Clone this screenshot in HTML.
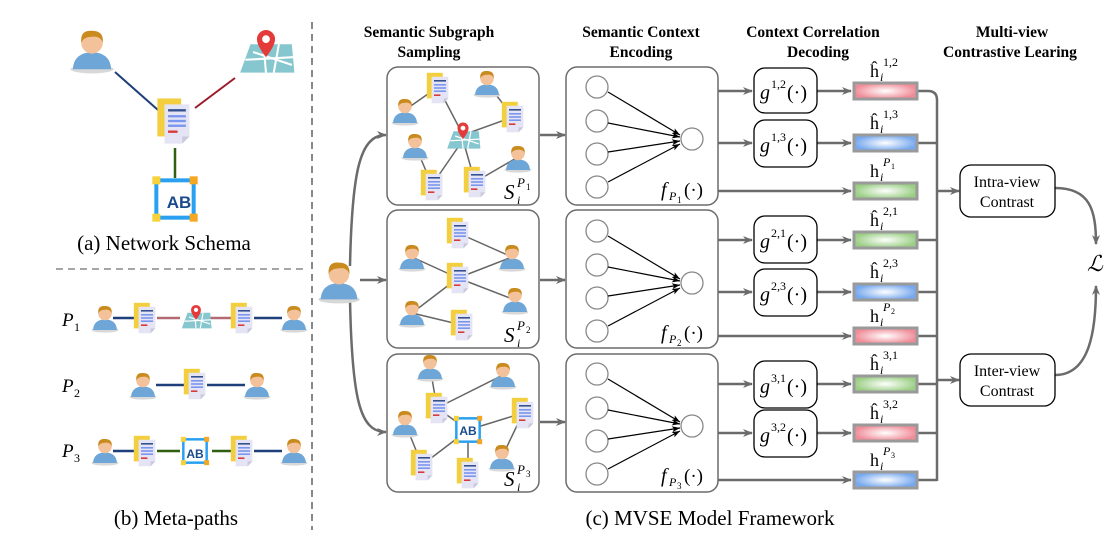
<!DOCTYPE html>
<html><head><meta charset="utf-8"><style>
body{margin:0;background:#fff;width:1116px;height:553px;overflow:hidden}
svg{display:block}
text{font-family:"Liberation Serif",serif;fill:#000}
.h{font-weight:bold;font-size:15.5px;text-anchor:middle}
</style></head><body>
<svg width="1116" height="553" viewBox="0 0 1116 553" xmlns="http://www.w3.org/2000/svg">
<defs>
<marker id="ar" markerWidth="10" markerHeight="8" refX="9" refY="4" orient="auto" markerUnits="userSpaceOnUse"><path d="M0,0 L10,4 L0,8 L3,4 Z" fill="#6b6b6b"/></marker>
<marker id="ak" markerWidth="8" markerHeight="6" refX="8" refY="3" orient="auto" markerUnits="userSpaceOnUse"><path d="M0,0 L8,3 L0,6 L2,3 Z" fill="#000"/></marker>
<symbol id="person" viewBox="0 0 40 40"><ellipse cx="20" cy="36" rx="18" ry="3.5" fill="#d8d8d8"/><path d="M4,36 Q5,22 20,22 Q35,22 36,36 Z" fill="#6fa6d8"/><circle cx="20" cy="14" r="9" fill="#f4c29a"/><path d="M11,14 Q10,3 20,4 Q30,4 29,14 Q27,8 20,9 Q13,9 11,14Z" fill="#c98a1e"/></symbol>
<symbol id="doc" viewBox="0 0 32 40"><rect x="2" y="1" width="20" height="32" fill="#f3cf3f"/><path d="M8,6 H29 V33 L23,39 H8 Z" fill="#e4e4f4"/><path d="M23,39 L23,33 L29,33Z" fill="#c9c9de"/><rect x="11" y="10" width="15" height="2" fill="#33518f"/><rect x="11" y="15" width="15" height="2" fill="#7b96ee"/><rect x="11" y="19" width="15" height="2" fill="#7b96ee"/><rect x="11" y="23" width="15" height="2" fill="#7b96ee"/><rect x="11" y="28" width="8" height="2" fill="#d83a3a"/></symbol>
<symbol id="map" viewBox="0 0 48 40"><path d="M4,36 L12,14 L44,14 L46,36 Z" fill="#86c6cf"/><path d="M8,26 L45,24 M14,20 L44,30 M22,14 L24,36 M34,14 L30,36" stroke="#fff" stroke-width="1.6" fill="none"/><path d="M24,3 a7,7 0 0 1 7,7 Q31,15 24,24 Q17,15 17,10 a7,7 0 0 1 7,-7Z" fill="#e53a3a"/><circle cx="24" cy="10" r="3" fill="#fff"/></symbol>
<symbol id="ab" viewBox="0 0 36 36"><rect x="4" y="4" width="28" height="28" fill="#fff" stroke="#2aa0f0" stroke-width="3"/><rect x="1" y="1" width="6" height="6" fill="#f7d23a"/><rect x="29" y="1" width="6" height="6" fill="#f5a623"/><rect x="1" y="29" width="6" height="6" fill="#f7d23a"/><rect x="29" y="29" width="6" height="6" fill="#f5a623"/></symbol>
<radialGradient id="gr"><stop offset="0" stop-color="#fff"/><stop offset="1" stop-color="#f08c98"/></radialGradient>
<radialGradient id="gb"><stop offset="0" stop-color="#fff"/><stop offset="1" stop-color="#76a8ee"/></radialGradient>
<radialGradient id="gg"><stop offset="0" stop-color="#fff"/><stop offset="1" stop-color="#9bcf85"/></radialGradient>
</defs>

<line x1="312" y1="22" x2="312" y2="530" stroke="#888" stroke-width="2" stroke-dasharray="7,5"/>
<line x1="56" y1="269" x2="306" y2="269" stroke="#888" stroke-width="1.5" stroke-dasharray="7,5"/>

<line x1="115" y1="72" x2="158" y2="110" stroke="#1f3f7a" stroke-width="2"/>
<line x1="235" y1="78" x2="195" y2="108" stroke="#9a1c2a" stroke-width="2"/>
<line x1="175" y1="148" x2="175" y2="178" stroke="#2f5f10" stroke-width="2.5"/>
<use href="#person" x="68" y="26" width="48" height="48"/>
<use href="#map" x="235" y="26" width="62" height="52"/>
<use href="#doc" x="155" y="97" width="38" height="48"/>
<use href="#ab" x="148" y="175" width="54" height="48"/>
<text x="179" y="208" font-size="17" font-weight="bold" text-anchor="middle" style="fill:#1a4a8a;font-family:'Liberation Sans',sans-serif">AB</text>
<text x="164" y="250" font-size="21" text-anchor="middle">(a) Network Schema</text>

<g stroke-width="2.5">
<line x1="113" y1="318" x2="135" y2="318" stroke="#1f3f7a"/><line x1="157" y1="318" x2="180" y2="318" stroke="#b46a72"/><line x1="210" y1="318" x2="232" y2="318" stroke="#b46a72"/><line x1="254" y1="318" x2="282" y2="318" stroke="#1f3f7a"/>
<line x1="156" y1="385" x2="185" y2="385" stroke="#1f3f7a"/><line x1="207" y1="385" x2="245" y2="385" stroke="#1f3f7a"/>
<line x1="113" y1="451" x2="135" y2="451" stroke="#1f3f7a"/><line x1="157" y1="451" x2="180" y2="451" stroke="#2f5f10"/><line x1="212" y1="451" x2="232" y2="451" stroke="#2f5f10"/><line x1="254" y1="451" x2="282" y2="451" stroke="#1f3f7a"/>
</g>
<text x="62" y="326" font-size="19" font-style="italic">P</text><text x="74" y="331" font-size="12">1</text>
<text x="62" y="392" font-size="19" font-style="italic">P</text><text x="74" y="397" font-size="12">2</text>
<text x="62" y="457" font-size="19" font-style="italic">P</text><text x="74" y="462" font-size="12">3</text>
<use href="#person" x="90" y="303" width="30" height="30"/><use href="#doc" x="132" y="302" width="26" height="32"/><use href="#map" x="179" y="302" width="34" height="30"/><use href="#doc" x="229" y="302" width="26" height="32"/><use href="#person" x="279" y="303" width="30" height="30"/>
<use href="#person" x="128" y="370" width="30" height="30"/><use href="#doc" x="182" y="368" width="26" height="32"/><use href="#person" x="242" y="370" width="30" height="30"/>
<use href="#person" x="90" y="436" width="30" height="30"/><use href="#doc" x="132" y="435" width="26" height="32"/><use href="#ab" x="178" y="436" width="34" height="30"/><use href="#doc" x="229" y="435" width="26" height="32"/><use href="#person" x="279" y="436" width="30" height="30"/>
<text x="195" y="458" font-size="12" font-weight="bold" text-anchor="middle" style="fill:#1a4a8a;font-family:'Liberation Sans',sans-serif">AB</text>
<text x="176" y="525" font-size="21" text-anchor="middle">(b) Meta-paths</text>

<text class="h" x="429" y="37">Semantic Subgraph</text><text class="h" x="429" y="57">Sampling</text>
<text class="h" x="641" y="37">Semantic Context</text><text class="h" x="641" y="57">Encoding</text>
<text class="h" x="813" y="37">Context Correlation</text><text class="h" x="818" y="57">Decoding</text>
<text class="h" x="1012" y="37">Multi-view</text><text class="h" x="1010" y="57">Contrastive Learing</text>
<text x="710" y="525" font-size="21" text-anchor="middle">(c) MVSE  Model Framework</text>

<g stroke="#6b6b6b" stroke-width="2.5" fill="none" marker-end="url(#ar)">
<path d="M350,266 C352,170 360,135 386,135"/>
<path d="M360,280 L386,280"/>
<path d="M350,300 C352,400 360,432 386,432"/>
<path d="M540,135 L565,135"/><path d="M540,280 L565,280"/><path d="M540,422 L565,422"/>
</g>
<use href="#person" x="316" y="258" width="46" height="46"/>

<g fill="none" stroke="#6b6b6b" stroke-width="1.5">
<rect x="387" y="67" width="152" height="138" rx="11"/><rect x="387" y="210" width="152" height="138" rx="11"/><rect x="387" y="354" width="152" height="138" rx="11"/>
<rect x="566" y="67" width="152" height="138" rx="11"/><rect x="566" y="210" width="152" height="138" rx="11"/><rect x="566" y="354" width="152" height="138" rx="11"/>
</g>
<g stroke="#666" stroke-width="1.5">
<line x1="405" y1="110" x2="438" y2="87"/><line x1="438" y1="87" x2="463" y2="135"/><line x1="487" y1="83" x2="513" y2="117"/><line x1="513" y1="117" x2="463" y2="135"/><line x1="415" y1="145" x2="432" y2="185"/><line x1="463" y1="140" x2="432" y2="185"/><line x1="463" y1="140" x2="475" y2="182"/><line x1="475" y1="182" x2="518" y2="157"/>
<line x1="458" y1="233" x2="512" y2="257"/><line x1="412" y1="257" x2="458" y2="278"/><line x1="458" y1="278" x2="512" y2="257"/><line x1="458" y1="278" x2="412" y2="313"/><line x1="458" y1="278" x2="515" y2="300"/><line x1="412" y1="313" x2="462" y2="325"/>
<line x1="430" y1="367" x2="437" y2="408"/><line x1="437" y1="408" x2="503" y2="375"/><line x1="437" y1="408" x2="468" y2="430"/><line x1="405" y1="423" x2="422" y2="465"/><line x1="468" y1="430" x2="422" y2="465"/><line x1="468" y1="430" x2="468" y2="473"/><line x1="468" y1="430" x2="523" y2="413"/><line x1="523" y1="413" x2="502" y2="457"/>
</g>
<g>
<use href="#doc" x="425" y="72" width="26" height="32"/><use href="#person" x="390" y="96" width="30" height="30"/><use href="#person" x="472" y="68" width="30" height="30"/><use href="#doc" x="500" y="101" width="26" height="32"/><use href="#map" x="444" y="120" width="38" height="32"/><use href="#person" x="400" y="131" width="30" height="30"/><use href="#person" x="503" y="143" width="30" height="30"/><use href="#doc" x="419" y="169" width="26" height="32"/><use href="#doc" x="462" y="166" width="26" height="32"/>
<use href="#doc" x="445" y="217" width="26" height="32"/><use href="#person" x="397" y="242" width="30" height="30"/><use href="#person" x="497" y="242" width="30" height="30"/><use href="#doc" x="445" y="262" width="26" height="32"/><use href="#person" x="397" y="298" width="30" height="30"/><use href="#person" x="500" y="285" width="30" height="30"/><use href="#doc" x="449" y="309" width="26" height="32"/>
<use href="#person" x="415" y="352" width="30" height="30"/><use href="#person" x="488" y="360" width="30" height="30"/><use href="#doc" x="424" y="392" width="26" height="32"/><use href="#person" x="390" y="408" width="30" height="30"/><use href="#ab" x="452" y="415" width="32" height="30"/><use href="#doc" x="510" y="397" width="26" height="32"/><use href="#person" x="487" y="442" width="30" height="30"/><use href="#doc" x="409" y="449" width="26" height="32"/><use href="#doc" x="455" y="457" width="26" height="32"/>
</g>
<text x="468" y="435" font-size="12" font-weight="bold" text-anchor="middle" style="fill:#1a4a8a;font-family:'Liberation Sans',sans-serif">AB</text>

<!-- S labels -->
<g font-style="italic">
<text x="504" y="199" font-size="21">S</text><text x="517" y="204" font-size="12">i</text><text x="517" y="187" font-size="13">P</text><text x="526" y="190" font-size="9" font-style="normal">1</text>
<text x="504" y="342" font-size="21">S</text><text x="517" y="347" font-size="12">i</text><text x="517" y="330" font-size="13">P</text><text x="526" y="333" font-size="9" font-style="normal">2</text>
<text x="504" y="486" font-size="21">S</text><text x="517" y="491" font-size="12">i</text><text x="517" y="474" font-size="13">P</text><text x="526" y="477" font-size="9" font-style="normal">3</text>
</g>

<g id="enc1">
<g fill="#fff" stroke="#888" stroke-width="1.3"><circle cx="597" cy="87" r="11"/><circle cx="597" cy="121" r="11"/><circle cx="597" cy="154" r="11"/><circle cx="597" cy="187" r="11"/><circle cx="692" cy="139" r="11"/></g>
<g stroke="#000" stroke-width="1.2" marker-end="url(#ak)"><line x1="608" y1="92" x2="680" y2="135"/><line x1="608" y1="123" x2="680" y2="137"/><line x1="608" y1="152" x2="680" y2="141"/><line x1="608" y1="182" x2="680" y2="144"/></g>
</g>
<use href="#enc1" y="144"/><use href="#enc1" y="287"/>
<!-- f labels -->
<g>
<text x="661" y="196" font-size="20" font-style="italic">f</text><text x="669" y="200" font-size="12" font-style="italic">P</text><text x="677" y="203" font-size="9">1</text><text x="684" y="196" font-size="19">(·)</text>
<text x="661" y="339" font-size="20" font-style="italic">f</text><text x="669" y="343" font-size="12" font-style="italic">P</text><text x="677" y="346" font-size="9">2</text><text x="684" y="339" font-size="19">(·)</text>
<text x="661" y="482" font-size="20" font-style="italic">f</text><text x="669" y="486" font-size="12" font-style="italic">P</text><text x="677" y="489" font-size="9">3</text><text x="684" y="482" font-size="19">(·)</text>
</g>

<g stroke="#6b6b6b" stroke-width="2.5" fill="none" marker-end="url(#ar)">
<path d="M718,91 L752,91"/><path d="M718,143 L752,143"/><path d="M718,191 L851,191"/>
<path d="M718,240 L752,240"/><path d="M718,292 L752,292"/><path d="M718,336 L851,336"/>
<path d="M718,384 L752,384"/><path d="M718,433 L752,433"/><path d="M718,480 L851,480"/>
<path d="M817,91 L851,91"/><path d="M817,143 L851,143"/><path d="M817,240 L851,240"/><path d="M817,292 L851,292"/><path d="M817,384 L851,384"/><path d="M817,433 L851,433"/>
<path d="M937,191 L959,191"/><path d="M937,380 L959,380"/>
<path d="M1055,188 C1090,188 1096,210 1096,244"/>
<path d="M1055,375 C1090,375 1096,330 1096,286"/>
</g>
<g stroke="#6b6b6b" stroke-width="2.5" fill="none">
<path d="M917,91 L928,91 Q937,91 937,100 L937,481"/>
<path d="M917,143 H937 M917,240 H937 M917,292 H937 M917,336 H937 M917,384 H937 M917,433 H937 M917,480 H937"/>
</g>

<g fill="#fff" stroke="#000" stroke-width="1.3">
<rect x="754" y="68" width="63" height="45" rx="11"/><rect x="754" y="120" width="63" height="47" rx="11"/><rect x="754" y="216" width="63" height="47" rx="11"/><rect x="754" y="269" width="63" height="47" rx="11"/><rect x="754" y="361" width="63" height="47" rx="11"/><rect x="754" y="410" width="63" height="47" rx="11"/>
<rect x="960" y="165" width="95" height="52" rx="11"/><rect x="960" y="354" width="95" height="52" rx="11"/>
</g>
<g font-size="20">
<text x="760" y="99" font-style="italic">g</text><text x="771" y="88" font-size="12">1,2</text><text x="787" y="99">(·)</text>
<text x="760" y="152" font-style="italic">g</text><text x="771" y="141" font-size="12">1,3</text><text x="787" y="152">(·)</text>
<text x="760" y="248" font-style="italic">g</text><text x="771" y="237" font-size="12">2,1</text><text x="787" y="248">(·)</text>
<text x="760" y="301" font-style="italic">g</text><text x="771" y="290" font-size="12">2,3</text><text x="787" y="301">(·)</text>
<text x="760" y="393" font-style="italic">g</text><text x="771" y="382" font-size="12">3,1</text><text x="787" y="393">(·)</text>
<text x="760" y="442" font-style="italic">g</text><text x="771" y="431" font-size="12">3,2</text><text x="787" y="442">(·)</text>
</g>
<text x="1007" y="187" font-size="16" text-anchor="middle">Intra-view</text><text x="1007" y="207" font-size="16" text-anchor="middle">Contrast</text>
<text x="1007" y="376" font-size="16" text-anchor="middle">Inter-view</text><text x="1007" y="396" font-size="16" text-anchor="middle">Contrast</text>
<text x="1087" y="271" font-size="22" font-style="italic">ℒ</text>

<g stroke="#9a9a9a" stroke-width="3">
<rect x="854" y="83" width="63" height="16" fill="url(#gr)"/>
<rect x="854" y="135" width="63" height="16" fill="url(#gb)"/>
<rect x="854" y="183" width="63" height="16" fill="url(#gg)"/>
<rect x="854" y="232" width="63" height="16" fill="url(#gg)"/>
<rect x="854" y="284" width="63" height="16" fill="url(#gb)"/>
<rect x="854" y="328" width="63" height="16" fill="url(#gr)"/>
<rect x="854" y="376" width="63" height="16" fill="url(#gg)"/>
<rect x="854" y="425" width="63" height="16" fill="url(#gr)"/>
<rect x="854" y="472" width="63" height="16" fill="url(#gb)"/>
</g>
<g font-size="18">
<text x="870" y="77">ĥ</text><text x="880" y="81" font-size="12" font-style="italic">i</text><text x="883" y="66" font-size="12">1,2</text>
<text x="870" y="129">ĥ</text><text x="880" y="133" font-size="12" font-style="italic">i</text><text x="883" y="118" font-size="12">1,3</text>
<text x="870" y="177">h</text><text x="880" y="181" font-size="12" font-style="italic">i</text><text x="883" y="166" font-size="12" font-style="italic">P</text><text x="891" y="169" font-size="8">1</text>
<text x="870" y="226">ĥ</text><text x="880" y="230" font-size="12" font-style="italic">i</text><text x="883" y="215" font-size="12">2,1</text>
<text x="870" y="278">ĥ</text><text x="880" y="282" font-size="12" font-style="italic">i</text><text x="883" y="267" font-size="12">2,3</text>
<text x="870" y="322">h</text><text x="880" y="326" font-size="12" font-style="italic">i</text><text x="883" y="311" font-size="12" font-style="italic">P</text><text x="891" y="314" font-size="8">2</text>
<text x="870" y="370">ĥ</text><text x="880" y="374" font-size="12" font-style="italic">i</text><text x="883" y="359" font-size="12">3,1</text>
<text x="870" y="419">ĥ</text><text x="880" y="423" font-size="12" font-style="italic">i</text><text x="883" y="408" font-size="12">3,2</text>
<text x="870" y="466">h</text><text x="880" y="470" font-size="12" font-style="italic">i</text><text x="883" y="455" font-size="12" font-style="italic">P</text><text x="891" y="458" font-size="8">3</text>
</g>
</svg>
</body></html>
